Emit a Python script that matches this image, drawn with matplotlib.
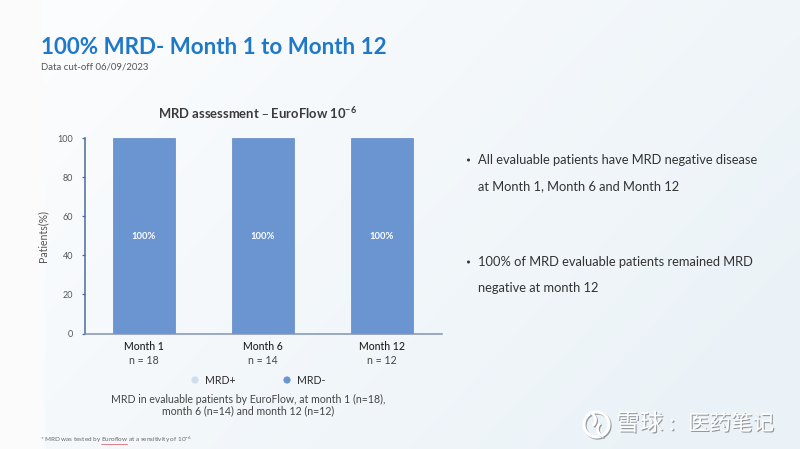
import numpy as np
import matplotlib
matplotlib.use('Agg')
import matplotlib.pyplot as plt
import matplotlib.patheffects as pe
from matplotlib.patches import Circle, Arc

W, H = 800, 449

months = ['Month 1', 'Month 6', 'Month 12']
counts = ['n = 18', 'n = 14', 'n = 12']
mrd_neg = [100, 100, 100]
y_ticks = [0, 20, 40, 60, 80, 100]
legend_names = ['MRD+', 'MRD-']

BAR_COLOR = '#6b95d1'
BAR_EDGE = '#6088c4'
POS_COLOR = '#cfdcee'
Y_AXIS_COLOR = '#4f6a9e'
X_AXIS_COLOR = '#8393b0'
TITLE_COLOR = '#1f78c8'
TEXT_COLOR = '#454545'

plt.rcParams['font.family'] = ['Lato', 'DejaVu Sans']

fig = plt.figure(figsize=(W / 100, H / 100), dpi=100)


def px_text(x, y, s, **kw):
  # Helper to place text using pixel coords of the reference
  return fig.text(x / W, 1 - y / H, s, **kw)


# Slide background, near white left strip fading into pale blue at bottom right
bg = fig.add_axes([0, 0, 1, 1], zorder=0)
xx, yy = np.meshgrid(np.linspace(0, 1, 200), np.linspace(0, 1, 112))
t = np.clip(0.72 * xx + 0.38 * yy, 0, 1)[..., None]
img = (1 - t) * np.array([0.99, 0.993, 0.997]) + t * np.array([0.92, 0.95, 0.97])
img[:, xx[0] < 0.055] = 0.988
bg.imshow(img, extent=(0, W, H, 0), aspect='auto', interpolation='bilinear')
bg.set_xlim(0, W)
bg.set_ylim(H, 0)
bg.axis('off')

# Bar chart
ax = fig.add_axes([84.5 / W, 1 - 333.5 / H, 357 / W, 195.5 / H], zorder=1)
ax.patch.set_alpha(0)
x = np.arange(len(months))
ax.bar(x, mrd_neg, width=0.525, color=BAR_COLOR, edgecolor=BAR_EDGE, linewidth=0.5)
for xi, v in zip(x, mrd_neg):
  ax.text(xi, v / 2 - 0.6, f'{v}%', color='white', fontsize=6.8, fontweight='bold',
          ha='center', va='center')
ax.set_xlim(-0.5, 2.5)
ax.set_ylim(0, 100)
ax.set_yticks(y_ticks)
ax.set_xticks([])
ax.tick_params(axis='y', labelsize=6.5, labelcolor='#555555', color=Y_AXIS_COLOR,
               length=2, width=0.9, pad=6)
for side in ['top', 'right']:
  ax.spines[side].set_visible(False)
ax.spines['left'].set_color(Y_AXIS_COLOR)
ax.spines['left'].set_linewidth(1.1)
ax.spines['bottom'].set_color(X_AXIS_COLOR)
ax.spines['bottom'].set_linewidth(1.1)
ax.set_ylabel('Patients(%)', fontsize=7.6, color='#555555', labelpad=7)

# Category labels under the axis
for xi, m, c in zip(x, months, counts):
  cx = 144 + 119 * xi
  px_text(cx, 347, m, fontsize=7.6, color='#222222', fontweight='medium', ha='center', va='center')
  px_text(cx, 360, c, fontsize=7.6, color=TEXT_COLOR, ha='center', va='center')

# Legend
over = fig.add_axes([0, 0, 1, 1], zorder=2)
over.set_xlim(0, W)
over.set_ylim(H, 0)
over.axis('off')
for lx, tx, col, name in zip([195, 287], [205, 297], [POS_COLOR, BAR_COLOR], legend_names):
  over.add_patch(Circle((lx, 380), 3.6, color=col, lw=0))
  over.text(tx, 380.5, name, fontsize=7.6, color='#2a2a2a', ha='left', va='center')

# Titles and notes
px_text(41, 48, '100% MRD- Month 1 to Month 12', fontsize=16.1, fontweight='bold',
        color=TITLE_COLOR, ha='left', va='center')
px_text(41, 67, 'Data cut-off 06/09/2023', fontsize=6.9, color='#555555', ha='left', va='center')
px_text(258, 113.5, r'MRD assessment – EuroFlow 10$^{\mathregular{-6}}$', fontsize=9.4,
        fontweight='bold', color='#3a3a3a', ha='center', va='center')
px_text(248, 405, 'MRD in evaluable patients by EuroFlow, at month 1 (n=18),\nmonth 6 (n=14) and month 12 (n=12)',
        fontsize=7.6, color=TEXT_COLOR, ha='center', va='center', linespacing=1.1)
px_text(40, 440, r'* MRD was tested by Euroflow at a sensitivity of 10$^{\mathregular{-6}}$',
        fontsize=4.6, color='#666666', ha='left', va='center')
over.plot([101, 127], [443.8, 443.8], color='#d9505a', lw=0.5)

# Right hand bullets
bullets = [
  (478, 160.5, 'All evaluable patients have MRD negative disease'),
  (478, 186, 'at Month 1, Month 6 and Month 12'),
  (478, 262.5, '100% of MRD evaluable patients remained MRD'),
  (478, 288, 'negative at month 12'),
]
for bx, by, s in bullets:
  px_text(bx, by, s, fontsize=9.3, color='#333333', ha='left', va='center')
for by in [160, 262]:
  over.add_patch(Circle((468.5, by), 1.5, color='#333333', lw=0))

# Watermark
shadow = [pe.withSimplePatchShadow(offset=(0.8, -0.8), shadow_rgbFace='#8a8f94', alpha=0.9)]
line_shadow = [pe.SimpleLineShadow(offset=(0.8, -0.8), shadow_color='#8a8f94', alpha=0.9), pe.Normal()]
cjk = ['Noto Sans CJK SC', 'DejaVu Sans']
px_text(616, 424, '雪球', fontsize=17, color='white', ha='left', va='center',
        family=cjk, path_effects=shadow)
px_text(672, 424, ':', fontsize=15, color='white', ha='center', va='center',
        family=cjk, path_effects=shadow)
px_text(688, 424, '医药笔记', fontsize=15.5, color='white', ha='left', va='center',
        family=cjk, path_effects=shadow)
over.add_patch(Circle((596.5, 424.5), 12.5, fill=False, ec='white', lw=2.2, path_effects=line_shadow))
over.add_patch(Arc((588, 420), 15, 15, theta1=-80, theta2=50, ec='white', lw=2.0, path_effects=line_shadow))
over.add_patch(Arc((605, 429), 15, 15, theta1=100, theta2=230, ec='white', lw=2.0, path_effects=line_shadow))

fig.savefig('out.png', dpi=100)
